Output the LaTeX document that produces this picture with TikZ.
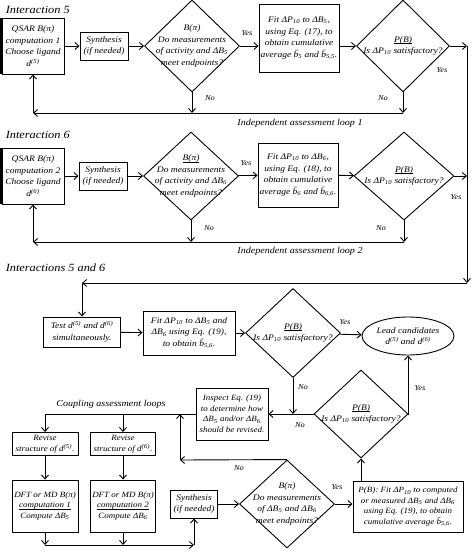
\documentclass[tikz,border=0pt]{standalone}
\usepackage{fontspec}
\setmainfont{Liberation Serif}[FakeStretch=1.12]
\usetikzlibrary{shapes.geometric,arrows.meta}
\newcommand{\undl}[1]{\leavevmode\setbox0\hbox{#1}\rlap{\rule[-1.3pt]{\wd0}{0.4pt}}\box0}
\begin{document}
\begin{tikzpicture}[x=1pt, y=-1pt, line width=0.9pt, >={Straight Barb[length=4pt,width=7pt]},
	every node/.style={font=\fontsize{8.5}{11.5}\selectfont\itshape},
	box/.style={draw, rectangle, align=center, inner sep=1pt},
	dia/.style={draw, diamond, inner sep=0pt},
	dtxt/.style={align=center, inner sep=0pt},
	lead/.style={draw, ellipse, align=center, inner sep=0pt},
	title/.style={anchor=west, font=\fontsize{11}{13}\selectfont\itshape},
	yn/.style={font=\fontsize{7.5}{9}\selectfont\itshape, inner sep=1pt},
	loop/.style={font=\fontsize{9}{11}\selectfont\itshape},
	small/.style={font=\fontsize{8}{10.5}\selectfont\itshape}]
	\useasboundingbox (0,0) rectangle (474,556);
	% interaction 5
	\node[title] (t5) at (2,10) {Interaction 5};
	\node[box, minimum width=62, minimum height=56] (qsar5) at (33,46) {QSAR B(π)\\computation 1\\Choose ligand\\d\textsuperscript{(5)}};
	\node[box, minimum width=48, minimum height=28] (syn5) at (104,46) {Synthesis\\(if needed)};
	\node[dia, minimum width=95, minimum height=92] (b5) at (192,46) {};
	\node[dtxt] at (b5) {B(π)\\Do measurements\\of activity and ΔB\textsubscript{5}\\meet endpoints?};
	\node[box, minimum width=80, minimum height=68] (fit5) at (299,38) {Fit ΔP\textsubscript{10} to ΔB\textsubscript{5},\\using Eq. (17), to\\obtain cumulative\\average \={b}\textsubscript{5} and \={b}\textsubscript{5,5}.};
	\node[dia, minimum width=93, minimum height=92] (pb5) at (403,46) {};
	\node[dtxt] at (pb5) {\undl{P(B)}\\Is ΔP\textsubscript{10} satisfactory?};
	\coordinate (r5) at (467,46);
	\coordinate (n5r) at (403,113);
	\coordinate (n5l) at (33,113);
	\draw[line width=2.5pt] (qsar5.south west) -- (qsar5.north west);
	\draw[->] (qsar5) -- (syn5);
	\draw[->] (syn5) -- (b5);
	\draw[->] (b5.east) -- (b5.east -| fit5.west);
	\draw[->] (fit5.east |- pb5) -- (pb5.east -| pb5.west);
	\draw[->] (pb5.east) -- (r5);
	\draw[->] (b5.south) -- (b5.south |- n5r);
	\draw[->] (pb5.south) -- (n5r);
	\draw[->] (n5r) -- (n5l);
	\draw[->] (n5l) -- (qsar5.south);
	\node[yn] at (247,33) {Yes};
	\node[yn] at (210,98) {No};
	\node[yn] at (383,98) {No};
	\node[yn] at (442,70) {Yes};
	\node[loop] (loop1) at (300,123) {Independent assessment loop 1};
	% interaction 6
	\node[title] (t6) at (2,135) {Interaction 6};
	\node[box, minimum width=62, minimum height=56] (qsar6) at (33,176) {QSAR B(π)\\computation 2\\Choose ligand\\d\textsuperscript{(6)}};
	\node[box, minimum width=48, minimum height=28] (syn6) at (103,176) {Synthesis\\(if needed)};
	\node[dia, minimum width=95, minimum height=88] (b6) at (191,176) {};
	\node[dtxt] at (b6) {\undl{B(π)}\\Do measurements\\of activity and ΔB\textsubscript{6}\\meet endpoints?};
	\node[box, minimum width=80, minimum height=64] (fit6) at (298,175) {Fit ΔP\textsubscript{10} to ΔB\textsubscript{6},\\using Eq. (18), to\\obtain cumulative\\average \={b}\textsubscript{6} and \={b}\textsubscript{6,6}.};
	\node[dia, minimum width=100, minimum height=88] (pb6) at (404,176) {};
	\node[dtxt] at (pb6) {\undl{P(B)}\\Is ΔP\textsubscript{10} satisfactory?};
	\coordinate (r6) at (467,176);
	\coordinate (n6r) at (404,242);
	\coordinate (n6l) at (33,242);
	\draw[line width=2.5pt] (qsar6.south west) -- (qsar6.north west);
	\draw[->] (qsar6) -- (syn6);
	\draw[->] (syn6) -- (b6);
	\draw[->] (b6) -- (fit6);
	\draw[->] (fit6) -- (pb6);
	\draw[->] (pb6.east) -- (r6);
	\draw[->] (b6.south) -- (b6.south |- n6r);
	\draw[->] (pb6.south) -- (n6r);
	\draw[->] (n6r) -- (n6l);
	\draw[->] (n6l) -- (qsar6.south);
	\node[yn] at (246,163) {Yes};
	\node[yn] at (209,228) {No};
	\node[yn] at (381,228) {No};
	\node[yn] at (456,197) {Yes};
	\node[loop] (loop2) at (300,251) {Independent assessment loop 2};
	% interactions 5 and 6
	\coordinate (r56) at (467,283);
	\coordinate (l56) at (82,283);
	\draw[->] (r5) -- (r56);
	\draw[->] (r56) -- (l56);
	\node[title] (t56) at (2,268) {Interactions 5 and 6};
	\node[box, minimum width=77, minimum height=30] (test) at (82,332) {Test d\textsuperscript{(5)} and d\textsuperscript{(6)}\\simultaneously.};
	\node[box, minimum width=92, minimum height=44] (fit56) at (189,333) {Fit ΔP\textsubscript{10} to ΔB\textsubscript{5} and\\ΔB\textsubscript{6} using Eq. (19),\\to obtain \={b}\textsubscript{5,6}.};
	\node[dia, minimum width=95, minimum height=89] (pb56) at (293,333) {};
	\node[dtxt] at (pb56) {\undl{P(B)}\\Is ΔP\textsubscript{10} satisfactory?};
	\node[lead, minimum width=92, minimum height=38] (cand) at (408,336) {Lead candidates\\d\textsuperscript{(5)} and d\textsuperscript{(6)}};
	\node[dia, minimum width=94, minimum height=88] (pbl) at (361,414) {};
	\node[dtxt] at (pbl) {\undl{P(B)}\\Is ΔP\textsubscript{10} satisfactory?};
	\node[box, small, minimum width=72, minimum height=52] (insp) at (232,414) {Inspect Eq. (19)\\to determine how\\ΔB\textsubscript{5} and/or ΔB\textsubscript{6}\\should be revised.};
	\node[box, small, minimum width=66, minimum height=23] (rev5) at (45,444) {Revise\\structure of d\textsuperscript{(5)}.};
	\node[box, small, minimum width=65, minimum height=23] (rev6) at (123,444) {Revise\\structure of d\textsuperscript{(6)}.};
	\node[box, small, minimum width=66, minimum height=52] (dft5) at (45,506) {DFT or MD B(π)\\\undl{computation 1}\\Compute ΔB\textsubscript{5}};
	\node[box, small, minimum width=65, minimum height=52] (dft6) at (123,506) {DFT or MD B(π)\\\undl{computation 2}\\Compute ΔB\textsubscript{6}};
	\node[box, minimum width=47, minimum height=28] (syn56) at (194,504) {Synthesis\\(if needed)};
	\node[dia, minimum width=95, minimum height=88] (b56) at (287,504) {};
	\node[dtxt] at (b56) {B(π)\\Do measurements\\of ΔB\textsubscript{5} and ΔB\textsubscript{6}\\meet endpoints?};
	\node[box, small, minimum width=110, minimum height=51] (pbox) at (408,507) {P(B): Fit ΔP\textsubscript{10} to computed\\or measured ΔB\textsubscript{5} and ΔB\textsubscript{6}\\using Eq. (19), to obtain\\cumulative average \={b}\textsubscript{5,6}.};
	\coordinate (nb) at (293,414);
	\coordinate (cl) at (45,414);
	\coordinate (cm) at (123,414);
	\coordinate (bot) at (194,545);
	\coordinate (nt) at (180,460);
	\coordinate (nu) at (180,414);
	\draw[->] (l56) -- (test);
	\draw[->] (test) -- (fit56);
	\draw[->] (fit56) -- (pb56);
	\draw[->] (pb56) -- (cand);
	\draw[->] (pb56.south) -- (nb);
	\draw[->] (pbl.east) -| (cand.south);
	\draw[->] (pbl.west) -- (insp);
	\draw (insp.west) -- (cl);
	\draw[->] (cl) -- (rev5);
	\draw[->] (cm) -- (rev6);
	\draw[->] (rev5) -- (dft5);
	\draw[->] (rev6) -- (dft6);
	\draw[->] (dft5.south) -- (dft5.south |- bot);
	\draw[->] (dft6.south) -- (dft6.south |- bot);
	\draw[->] (dft5.south |- bot) -- (bot);
	\draw[->] (bot) -- (syn56);
	\draw[->] (syn56) -- (b56);
	\draw[->] (b56) -- (b56.east -| pbox.west);
	\draw[->] (pbl.south |- pbox.north) -- (pbl.south);
	\draw[->] (b56.north) -- (nt);
	\draw[->] (nt) -- (nu);
	\node[yn] at (345,322) {Yes};
	\node[yn] at (303,387) {No};
	\node[yn] at (420,388) {Yes};
	\node[yn] at (300,425) {No};
	\node[yn] at (239,468) {No};
	\node[yn] at (337,487) {Yes};
	\node[loop] (cpl) at (111,404) {Coupling assessment loops};
\end{tikzpicture}
\end{document}
